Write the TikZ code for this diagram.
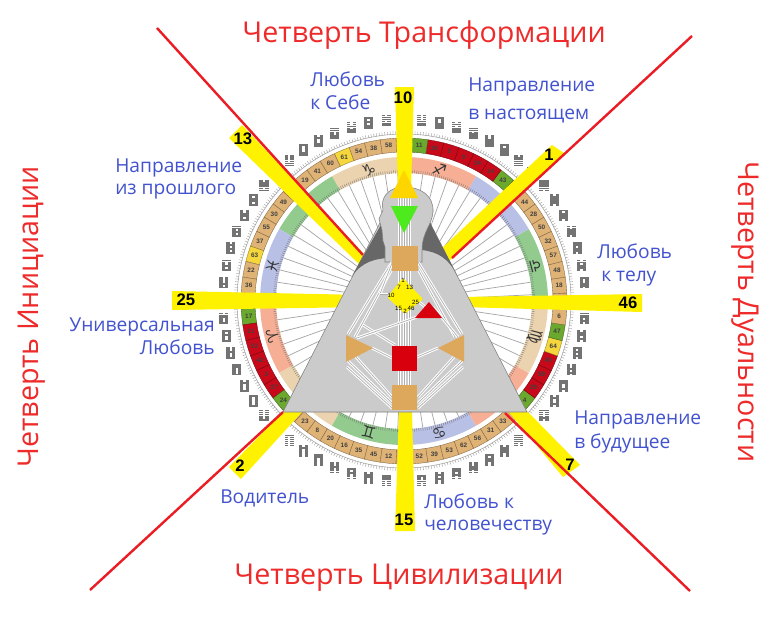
\documentclass[tikz,border=0pt]{standalone}
\usepackage{fontspec}
\setmainfont{Open Sans}
\newfontfamily\numfont{Liberation Sans}
\newfontfamily\zodfont{DejaVu Sans}
\definecolor{gT}{HTML}{DFB276}
\definecolor{gG}{HTML}{6BA82E}
\definecolor{gR}{HTML}{C8091A}
\definecolor{gY}{HTML}{F5D63D}
\definecolor{zT}{HTML}{EBD3AF}
\definecolor{zS}{HTML}{F6AF95}
\definecolor{zL}{HTML}{B9C0E6}
\definecolor{zG}{HTML}{93CB8E}
\definecolor{armY}{HTML}{FFF200}
\definecolor{lineR}{HTML}{EC1C24}
\definecolor{titleR}{HTML}{EE2A2A}
\definecolor{blueL}{HTML}{4353CF}
\definecolor{bodyG}{HTML}{CBCBCB}
\definecolor{darkG}{HTML}{676767}
\definecolor{centerT}{HTML}{DDA85B}
\definecolor{centerR}{HTML}{D9000D}
\definecolor{crownY}{HTML}{FFD500}
\definecolor{ajnaG}{HTML}{4DEB1E}
\tikzset{
  px/.style={x=0.75pt,y=-0.75pt},
  titlelab/.style={text=titleR,font=\fontsize{21.5}{24}\selectfont,inner sep=0pt},
  bluelab/.style={text=blueL,font=\fontsize{14.4}{17}\selectfont,inner sep=0pt,align=left},
  armlab/.style={text=black,font=\numfont\bfseries\fontsize{12.5}{13}\selectfont,inner sep=0pt},
  gatelab/.style={text=black!75,font=\numfont\bfseries\fontsize{4.8}{5}\selectfont,inner sep=0pt},
  glab/.style={text=black,font=\numfont\fontsize{4.6}{5}\selectfont,inner sep=0pt},
  zodlab/.style={text=black!80,font=\zodfont\fontsize{12}{12}\selectfont,inner sep=0pt},
  armband/.style={fill=armY},
  redline/.style={draw=lineR,line width=1.8pt},
  spoke/.style={draw=black!35,line width=0.55pt},
  chan/.style={draw=white,line width=2.1pt,postaction={draw=black!32,line width=0.5pt}},
  centerbox/.style={fill=centerT},
}
\newcommand\hexrow[2]{%
  \ifnum#2=1
    \fill[black!55] (-4.6,{-5.2+#1*1.95}) rectangle (4.6,{-3.6+#1*1.95});
  \else
    \fill[black!55] (-4.6,{-5.2+#1*1.95}) rectangle (-1.2,{-3.6+#1*1.95});
    \fill[black!55] (1.2,{-5.2+#1*1.95}) rectangle (4.6,{-3.6+#1*1.95});
  \fi}
\newcommand\hexa[6]{\hexrow{0}{#1}\hexrow{1}{#2}\hexrow{2}{#3}\hexrow{3}{#4}\hexrow{4}{#5}\hexrow{5}{#6}}
\newcommand\sector[5]{% colour, a, b, inner, outer
  \path[#1] ({#2}:#5) arc[start angle={#2},end angle={#3},radius=#5] -- ({#3}:#4) arc[start angle={#3},end angle={#2},radius=#4] -- cycle;}
\begin{document}
\begin{tikzpicture}[px]
\useasboundingbox (0,0) rectangle (775,619);
\fill[white] (0,0) rectangle (775,619);
% ---------- wheel, in a scope with math orientation
\begin{scope}[shift={(404,301)},y=0.75pt]
  % spokes
  \foreach \k in {0,...,63} {
    \draw[spoke] ({90+2.8125+\k*5.625}:40) -- ({90+2.8125+\k*5.625}:128);
  }
  % zodiac band
  \foreach \k/\c in {0/zG,1/zL,2/zS,3/zT,4/zG,5/zL,6/zS,7/zT,8/zG,9/zL,10/zS,11/zT} {
    \sector{fill=\c}{\k*30}{(\k+1)*30}{128}{144}
  }
  % fine ticks
  \foreach \k in {0,...,383} {
    \draw[black!45,line width=0.25pt] ({\k*0.9375}:167) -- ({\k*0.9375}:170);
    \draw[black!55,line width=0.25pt] ({\k*0.9375}:128) -- ({\k*0.9375}:131);
  }
  \draw[black!40,line width=0.35pt] (0,0) circle[radius=167];
  % zodiac glyphs
  \foreach \a/\g in {105/♑,75/♐,45/♏,15/♎,345/♍,315/♌,285/♋,255/♊,225/♉,195/♈,165/♓,135/♒} {
    \node[zodlab,rotate=\a-90] (z\a) at (\a:136) {\g};
  }
  % gate ring + hexagrams
  \foreach \g/\c/\b [count=\n from 0] in {
    10/gT/110111,58/gT/110110,38/gT/110101,54/gT/110100,61/gY/110011,60/gT/110010,41/gT/110001,19/gT/110000,
    13/gT/101111,49/gT/101110,30/gT/101101,55/gT/101100,37/gT/101011,63/gY/101010,22/gT/101001,36/gT/101000,
    25/gT/100111,17/gG/100110,21/gR/100101,51/gR/100100,42/gR/100011,3/gR/100010,27/gR/100001,24/gG/100000,
    2/gT/000000,23/gT/000001,8/gT/000010,20/gT/000011,16/gT/000100,35/gT/000101,45/gT/000110,12/gT/000111,
    15/gT/001000,52/gT/001001,39/gT/001010,53/gT/001011,62/gT/001100,56/gT/001101,31/gT/001110,33/gT/001111,
    7/gT/010000,4/gG/010001,29/gR/010010,59/gR/010011,40/gR/010100,64/gY/010101,47/gG/010110,6/gT/010111,
    46/gT/011000,18/gT/011001,48/gT/011010,57/gT/011011,32/gT/011100,50/gT/011101,28/gT/011110,44/gT/011111,
    1/gT/111111,43/gG/111110,14/gR/111101,34/gR/111100,9/gR/111011,5/gR/111010,26/gR/111001,11/gG/111000} {
    \pgfmathsetmacro\ang{90+\n*5.625}
    \pgfmathsetmacro\aa{\ang-2.8125}
    \pgfmathsetmacro\ab{\ang+2.8125}
    \sector{fill=\c,draw=black!45!\c,line width=0.25pt}{\aa}{\ab}{149}{163}
    \node[gatelab] (gate\g) at (\ang:156) {\g};
    \begin{scope}[shift={(\ang:181)}]
      \expandafter\hexa\b
    \end{scope}
  }
\end{scope}
% ---------- yellow arms
\path[armband] (395,87) -- (414,87) -- (411,190) -- (398,190) -- cycle;
\path[armband] (229,138) -- (242,125) -- (367,257) -- (361,266) -- cycle;
\path[armband] (552,145) -- (564,153) -- (446,264) -- (440,250) -- cycle;
\path[armband] (172,291) -- (172,310) -- (365,307) -- (365,295) -- cycle;
\path[armband] (642,294) -- (642,312) -- (460,307) -- (460,297) -- cycle;
\path[armband] (229,467) -- (241,479) -- (302,412) -- (283,412) -- cycle;
\path[armband] (395,531) -- (415,531) -- (412,410) -- (399,410) -- cycle;
\path[armband] (563,477) -- (580,465) -- (527,411) -- (508,411) -- cycle;
% ---------- red lines
\coordinate (tl) at (157,28);  \coordinate (tli) at (363,255);
\coordinate (tr) at (692,36);  \coordinate (tri) at (452,258);
\coordinate (bl) at (90,590);  \coordinate (bli) at (283,412);
\coordinate (br) at (690,591); \coordinate (bri) at (505,413);
\draw[redline] (tl) -- (tli);
\draw[redline] (tr) -- (tri);
\draw[redline] (bl) -- (bli);
\draw[redline] (br) -- (bri);
% ---------- body
\fill[bodyG,draw=black!50,line width=0.4pt] (283,412) -- (527,412) -- (405,174) -- cycle;
\fill[darkG] (352,276) -- (382,223) -- (383,240) -- (392,247) -- (392,258)
  .. controls (375,258) and (362,262) .. (352,276) -- cycle;
\fill[darkG] (457,275) -- (430,223) -- (422,237) -- (422,250)
  .. controls (438,252) and (448,258) .. (457,275) -- cycle;
\fill[bodyG,draw=black!50,line width=0.4pt] (385,262) -- (385,247) -- (383,241) -- (382,230) -- (379,219)
  -- (383,210) .. controls (380,198) and (388,187) .. (404,187)
  .. controls (420,187) and (434,195) .. (433,212)
  .. controls (432,225) and (422,232) .. (422,250) -- (422,262) -- cycle;
% ---------- channels
\foreach \x in {399.5,404.5,409.5} { \draw[chan] (\x,198) -- (\x,385); }
\foreach \xa/\ya/\xb/\yb in {
  392/262/348/334, 392/269/355/337, 418/262/462/334, 418/269/455/337,
  380/294/392/263, 363/325/395/345, 357/338/417/317, 372/348/392/358,
  417/357/438/348, 415/299/432/312, 433/307/458/337,
  347/360/392/403, 347/367/392/408, 356/357/392/397,
  463/360/418/403, 463/367/418/408, 454/357/418/397} {
  \draw[chan] (\xa,\ya) -- (\xb,\yb);
}
\draw[chan] (380,294) -- (392,294);
% ---------- centres
\fill[crownY] (404,170) -- (418,198) -- (390,198) -- cycle;
\fill[ajnaG] (391,206) -- (418,206) -- (404,233) -- cycle;
\fill[centerbox] (392,246) rectangle (418,271);
\fill[armY,draw=armY,line width=2pt,line join=round] (403,280) -- (421,299) -- (405,312) -- (389,297) -- cycle;
\fill[centerR] (429,302) -- (442,318) -- (415,318) -- cycle;
\fill[centerR] (392,346) rectangle (417,371);
\fill[centerbox] (392,385) rectangle (417,410);
\fill[centerbox] (346,335) -- (346,362) -- (373,348) -- cycle;
\fill[centerbox] (464,335) -- (464,362) -- (438,348) -- cycle;
\foreach \x/\y/\t in {403/280.5/1,399/287/7,409.5/287/13,391/295/10,415.5/302/25,398.5/308/15,405/311/2,411/308/46} {
  \node[glab] (g\t) at (\x,\y) {\t};
}
% ---------- arm labels
\node[armlab] (a10) at (403,98) {10};
\node[armlab] (a13) at (243,139) {13};
\node[armlab] (a1) at (549,155) {1};
\node[armlab] (a25) at (186,300) {25};
\node[armlab] (a46) at (628,303) {46};
\node[armlab] (a2) at (240,466) {2};
\node[armlab] (a15) at (404,520) {15};
\node[armlab] (a7) at (570,465) {7};
% ---------- quarter titles
\node[titlelab] (qt) at (424,35) {Четверть Трансформации};
\node[titlelab] (qc) at (399,578) {Четверть Цивилизации};
\node[titlelab,rotate=90] (qi) at (32,317) {Четверть Инициации};
\node[titlelab,rotate=-90] (qd) at (745,312) {Четверть Дуальности};
% ---------- blue labels
\node[bluelab,anchor=north west] (b1) at (310,72) {Любовь\\к Себе};
\node[bluelab,anchor=north west] (b2) at (468,78) {Направление\\[4pt]в настоящем};
\node[bluelab,anchor=north west] (b3) at (115,159) {Направление\\[-1pt]из прошлого};
\node[bluelab,anchor=north west] (b4) at (597,244) {Любовь\\\hspace*{3pt}к телу};
\node[bluelab,align=right,anchor=north east] (b5) at (215,318) {Универсальная\\Любовь};
\node[bluelab,anchor=north west] (b6) at (574,411) {Направление\\[1pt]в будущее};
\node[bluelab,anchor=north west] (b7) at (220,490) {Водитель};
\node[bluelab,anchor=north west] (b8) at (424,494) {Любовь к\\[-1pt]человечеству};
\end{tikzpicture}
\end{document}
